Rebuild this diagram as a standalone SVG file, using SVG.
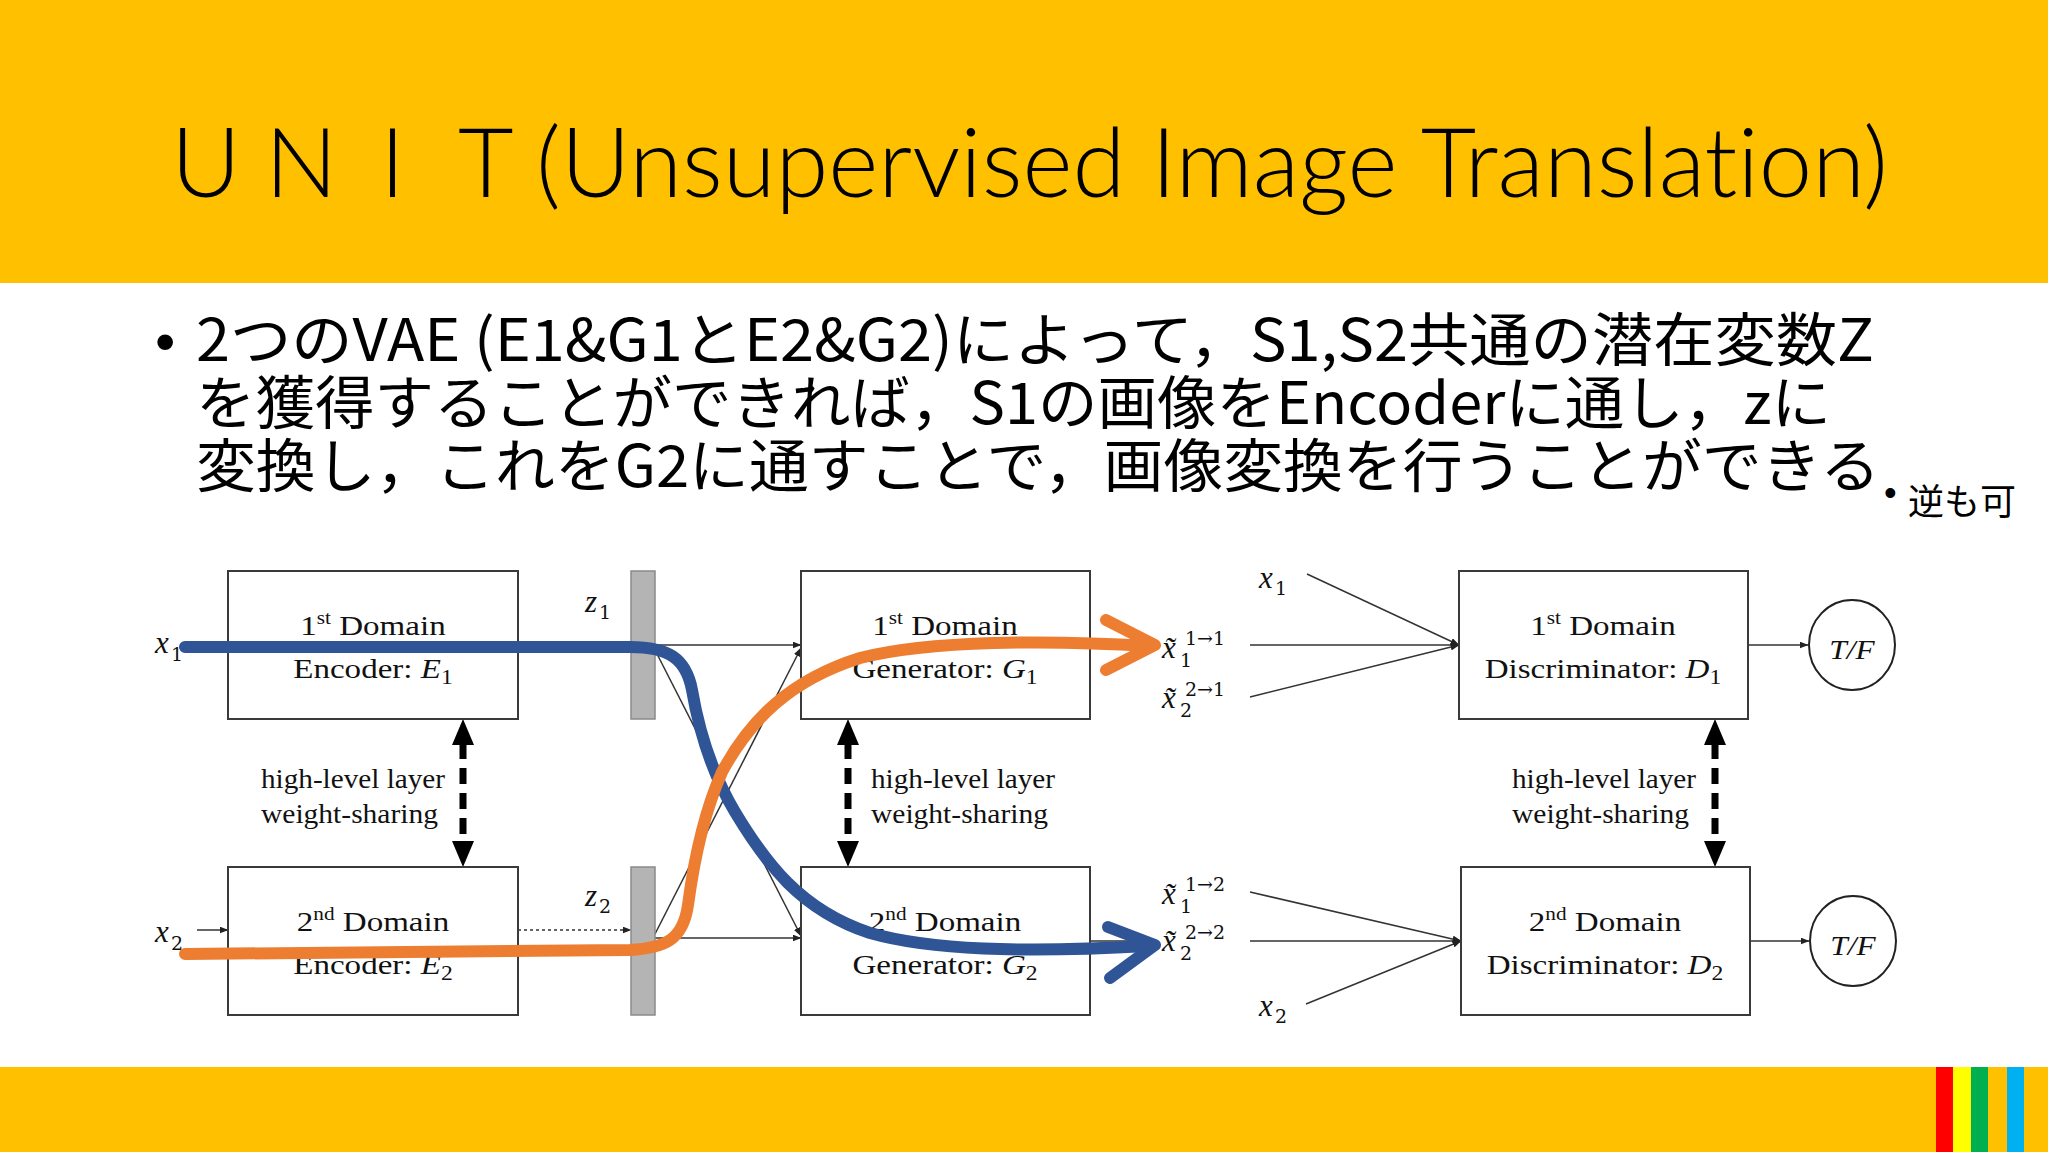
<svg xmlns="http://www.w3.org/2000/svg" width="2048" height="1152" viewBox="0 0 2048 1152">
<defs>
<marker id="ah" markerWidth="9" markerHeight="7" refX="8.5" refY="3.5" orient="auto" markerUnits="userSpaceOnUse"><path d="M0,0 L9,3.5 L0,7 z" fill="#222"/></marker>
</defs>
<style>
.box{fill:#fff;stroke:#3a3a3a;stroke-width:2}
.bar{fill:#b4b4b4;stroke:#8a8a8a;stroke-width:1.5}
.lbl{font-family:"Liberation Serif",serif;font-size:28px;fill:#111;text-anchor:middle}
.it{font-style:italic}
.ln{stroke:#333;stroke-width:1.5;fill:none}
.dot{stroke:#333;stroke-width:1.5;fill:none;stroke-dasharray:3 3}
.hl{font-family:"Liberation Serif",serif;font-size:26.5px;fill:#111}
.m{font-family:"Liberation Serif",serif;fill:#111}
.sm{font-family:"DejaVu Serif",serif;fill:#111;font-size:19px}
.dash{stroke:#000;stroke-width:7;stroke-dasharray:16 9;fill:none}
.head{fill:#000}
.title{font-family:Lato,"Noto Sans CJK JP",sans-serif;font-size:96px;font-weight:300;fill:#000;font-variant-ligatures:none;font-feature-settings:"liga" 0,"dlig" 0}
.body{font-family:"Noto Sans CJK JP","Noto Sans",sans-serif;font-size:58px;fill:#000}
.blue{stroke:#2f5597;stroke-width:12;fill:none;stroke-linecap:round;stroke-linejoin:round}
.orange{stroke:#ed7d31;stroke-width:12;fill:none;stroke-linecap:round;stroke-linejoin:round}
</style>
<rect x="0" y="0" width="2048" height="1152" fill="#fff"/>
<rect x="0" y="0" width="2048" height="283" fill="#FFC000"/>
<rect x="0" y="1067" width="2048" height="85" fill="#FFC000"/>
<rect x="1936" y="1067" width="17" height="85" fill="#FF0000"/>
<rect x="1953" y="1067" width="18" height="85" fill="#FFFF00"/>
<rect x="1971" y="1067" width="17" height="85" fill="#00B050"/>
<rect x="2007" y="1067" width="17" height="85" fill="#00B0F0"/>

<g id="title">
<text class="title" y="197"><tspan x="171">U</tspan><tspan x="265">N</tspan><tspan x="380">I</tspan><tspan x="458">T</tspan></text>
<text class="title" x="536" y="197" textLength="1352" lengthAdjust="spacingAndGlyphs">(Unsupervised Image Translation)</text>
</g>

<g id="bullet-text">
<text x="155" y="361" font-family="'Liberation Sans',sans-serif" font-size="58">•</text>
<text class="body" x="196" y="361" textLength="1678" lengthAdjust="spacingAndGlyphs">2つのVAE (E1&amp;G1とE2&amp;G2)によって，S1,S2共通の潜在変数Z</text>
<text class="body" x="196" y="424" textLength="1635" lengthAdjust="spacingAndGlyphs">を獲得することができれば，S1の画像をEncoderに通し，zに</text>
<text class="body" x="196" y="487" textLength="1684" lengthAdjust="spacingAndGlyphs">変換し，これをG2に通すことで，画像変換を行うことができる</text>
<text x="1884" y="505" font-family="'Liberation Sans',sans-serif" font-size="36">•</text>
<text x="1908" y="515" font-family="'Noto Sans CJK JP',sans-serif" font-size="36">逆も可</text>
</g>

<g id="connectors">
<line class="ln" x1="197" y1="647" x2="228" y2="647" marker-end="url(#ah)"/>
<line class="ln" x1="197" y1="930" x2="228" y2="930" marker-end="url(#ah)"/>
<line class="dot" x1="518" y1="647" x2="631" y2="647" marker-end="url(#ah)"/>
<line class="dot" x1="518" y1="930" x2="631" y2="930" marker-end="url(#ah)"/>
<line class="ln" x1="655" y1="645" x2="801" y2="645" marker-end="url(#ah)"/>
<line class="ln" x1="655" y1="650" x2="801" y2="936" marker-end="url(#ah)"/>
<line class="ln" x1="655" y1="938" x2="801" y2="938" marker-end="url(#ah)"/>
<line class="ln" x1="655" y1="934" x2="801" y2="648" marker-end="url(#ah)"/>
<line class="ln" x1="1090" y1="645" x2="1150" y2="645" marker-end="url(#ah)"/>
<line class="ln" x1="1090" y1="941" x2="1150" y2="941" marker-end="url(#ah)"/>
<line class="ln" x1="1307" y1="574" x2="1459" y2="645" marker-end="url(#ah)"/>
<line class="ln" x1="1250" y1="645" x2="1459" y2="645" marker-end="url(#ah)"/>
<line class="ln" x1="1250" y1="697" x2="1459" y2="645" marker-end="url(#ah)"/>
<line class="ln" x1="1250" y1="892" x2="1461" y2="941" marker-end="url(#ah)"/>
<line class="ln" x1="1250" y1="941" x2="1461" y2="941" marker-end="url(#ah)"/>
<line class="ln" x1="1306" y1="1004" x2="1461" y2="941" marker-end="url(#ah)"/>
<line class="ln" x1="1748" y1="645" x2="1808" y2="645" marker-end="url(#ah)"/>
<line class="ln" x1="1750" y1="941" x2="1809" y2="941" marker-end="url(#ah)"/>
<line class="dash" x1="463" y1="743" x2="463" y2="843"/>
<polygon class="head" points="463,719 452,745 474,745"/>
<polygon class="head" points="463,867 452,841 474,841"/>
<line class="dash" x1="848" y1="743" x2="848" y2="843"/>
<polygon class="head" points="848,719 837,745 859,745"/>
<polygon class="head" points="848,867 837,841 859,841"/>
<line class="dash" x1="1715" y1="743" x2="1715" y2="843"/>
<polygon class="head" points="1715,719 1704,745 1726,745"/>
<polygon class="head" points="1715,867 1704,841 1726,841"/>
</g>

<g id="labels">
<text class="m" font-size="31"><tspan class="it" x="155" y="653">x</tspan><tspan class="sm" x="171" y="661">1</tspan></text>
<text class="m" font-size="31"><tspan class="it" x="155" y="942">x</tspan><tspan class="sm" x="171" y="950">2</tspan></text>
<text class="m" font-size="31"><tspan class="it" x="585" y="612">z</tspan><tspan class="sm" x="599" y="619">1</tspan></text>
<text class="m" font-size="31"><tspan class="it" x="585" y="906">z</tspan><tspan class="sm" x="599" y="913">2</tspan></text>
<text class="m" font-size="31"><tspan class="it" x="1259" y="588">x</tspan><tspan class="sm" x="1275" y="595">1</tspan></text>
<text class="m" font-size="31"><tspan class="it" x="1259" y="1016">x</tspan><tspan class="sm" x="1275" y="1023">2</tspan></text>
<text class="m" font-size="31"><tspan class="it" x="1162" y="658">x̃</tspan><tspan class="sm" x="1180" y="667">1</tspan><tspan class="sm" x="1185" y="645">1→1</tspan></text>
<text class="m" font-size="31"><tspan class="it" x="1162" y="708">x̃</tspan><tspan class="sm" x="1180" y="717">2</tspan><tspan class="sm" x="1185" y="696">2→1</tspan></text>
<text class="m" font-size="31"><tspan class="it" x="1162" y="904">x̃</tspan><tspan class="sm" x="1180" y="913">1</tspan><tspan class="sm" x="1185" y="891">1→2</tspan></text>
<text class="m" font-size="31"><tspan class="it" x="1162" y="951">x̃</tspan><tspan class="sm" x="1180" y="960">2</tspan><tspan class="sm" x="1185" y="939">2→2</tspan></text>
<g transform="translate(261,0)"><text class="hl" y="788" textLength="184" lengthAdjust="spacingAndGlyphs">high-level layer</text><text class="hl" y="823" textLength="177" lengthAdjust="spacingAndGlyphs">weight-sharing</text></g>
<g transform="translate(871,0)"><text class="hl" y="788" textLength="184" lengthAdjust="spacingAndGlyphs">high-level layer</text><text class="hl" y="823" textLength="177" lengthAdjust="spacingAndGlyphs">weight-sharing</text></g>
<g transform="translate(1512,0)"><text class="hl" y="788" textLength="184" lengthAdjust="spacingAndGlyphs">high-level layer</text><text class="hl" y="823" textLength="177" lengthAdjust="spacingAndGlyphs">weight-sharing</text></g>
</g>

<g id="E1">
<rect class="box" x="228" y="571" width="290" height="148"/>
<g transform="translate(373,635) scale(1.18,1)"><text class="lbl">1<tspan font-size="18" dy="-11">st</tspan><tspan dy="11"> Domain</tspan></text></g>
<g transform="translate(373,678) scale(1.18,1)"><text class="lbl">Encoder: <tspan class="it">E</tspan><tspan font-size="20" dy="6">1</tspan></text></g>
</g>
<g id="E2">
<rect class="box" x="228" y="867" width="290" height="148"/>
<g transform="translate(373,931) scale(1.18,1)"><text class="lbl">2<tspan font-size="18" dy="-11">nd</tspan><tspan dy="11"> Domain</tspan></text></g>
<g transform="translate(373,974) scale(1.18,1)"><text class="lbl">Encoder: <tspan class="it">E</tspan><tspan font-size="20" dy="6">2</tspan></text></g>
</g>
<g id="z1"><rect class="bar" x="631" y="571" width="24" height="148"/></g>
<g id="z2"><rect class="bar" x="631" y="867" width="24" height="148"/></g>
<g id="G1">
<rect class="box" x="801" y="571" width="289" height="148"/>
<g transform="translate(945,635) scale(1.18,1)"><text class="lbl">1<tspan font-size="18" dy="-11">st</tspan><tspan dy="11"> Domain</tspan></text></g>
<g transform="translate(945,678) scale(1.18,1)"><text class="lbl">Generator: <tspan class="it">G</tspan><tspan font-size="20" dy="6">1</tspan></text></g>
</g>
<g id="G2">
<rect class="box" x="801" y="867" width="289" height="148"/>
<g transform="translate(945,931) scale(1.18,1)"><text class="lbl">2<tspan font-size="18" dy="-11">nd</tspan><tspan dy="11"> Domain</tspan></text></g>
<g transform="translate(945,974) scale(1.18,1)"><text class="lbl">Generator: <tspan class="it">G</tspan><tspan font-size="20" dy="6">2</tspan></text></g>
</g>
<g id="D1">
<rect class="box" x="1459" y="571" width="289" height="148"/>
<g transform="translate(1603,635) scale(1.18,1)"><text class="lbl">1<tspan font-size="18" dy="-11">st</tspan><tspan dy="11"> Domain</tspan></text></g>
<g transform="translate(1603,678) scale(1.18,1)"><text class="lbl">Discriminator: <tspan class="it">D</tspan><tspan font-size="20" dy="6">1</tspan></text></g>
</g>
<g id="D2">
<rect class="box" x="1461" y="867" width="289" height="148"/>
<g transform="translate(1605,931) scale(1.18,1)"><text class="lbl">2<tspan font-size="18" dy="-11">nd</tspan><tspan dy="11"> Domain</tspan></text></g>
<g transform="translate(1605,974) scale(1.18,1)"><text class="lbl">Discriminator: <tspan class="it">D</tspan><tspan font-size="20" dy="6">2</tspan></text></g>
</g>
<g id="TF1">
<ellipse cx="1852" cy="645" rx="43" ry="45" fill="#fff" stroke="#222" stroke-width="2"/>
<g transform="translate(1852,659) scale(1.12,1)"><text class="lbl it" font-size="40">T/F</text></g>
</g>
<g id="TF2">
<ellipse cx="1853" cy="941" rx="43" ry="45" fill="#fff" stroke="#222" stroke-width="2"/>
<g transform="translate(1853,955) scale(1.12,1)"><text class="lbl it" font-size="40">T/F</text></g>
</g>

<g id="highlight-arrows">
<path class="blue" d="M185,647 L630,647 C668,647 686,658 692,690 C698,725 710,770 735,812 C765,862 800,910 870,933 C930,950 1020,953 1148,946"/>
<polyline class="blue" points="1108,927 1155,945 1110,978"/>
<path class="orange" d="M185,954 L630,950 C665,948 683,940 688,905 C694,860 705,810 722,772 C750,720 790,680 860,658 C930,640 1050,640 1150,646"/>
<polyline class="orange" points="1106,620 1155,645 1106,670"/>
</g>
</svg>
